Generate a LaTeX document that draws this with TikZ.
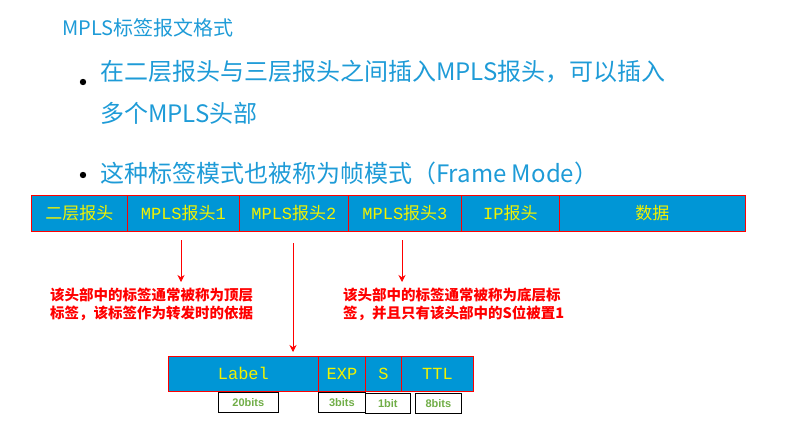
\documentclass[tikz,border=0pt]{standalone}
\usepackage{fontspec}
\usetikzlibrary{arrows.meta}
\setmainfont{Carlito}
\setsansfont{Liberation Sans}
\newfontfamily\cjk{Noto Sans CJK SC}
\newfontfamily\mono{Liberation Mono}
\definecolor{tblue}{HTML}{1E9BD7}
\definecolor{barblue}{HTML}{0096D6}
\definecolor{byel}{HTML}{F2F200}
\definecolor{bgreen}{HTML}{70AD47}
\tikzset{
  cell/.style={draw=red, fill=barblue, line width=0.8pt, minimum height=36pt, inner sep=0pt, anchor=north west, text=byel, font=\fontsize{17}{19}\selectfont\mono},
  bits/.style={draw=black, line width=0.7pt, minimum height=20pt, inner sep=0pt, anchor=north west, text=bgreen, font=\fontsize{11}{12}\selectfont\bfseries\sffamily},
  note/.style={anchor=north west, text=red, align=left, font=\fontsize{14.5}{18}\selectfont\bfseries\cjk, inner sep=0pt},
  arr/.style={draw=red, line width=0.7pt, -{Stealth[length=7pt,width=7pt]}},
  bul/.style={anchor=west, text=tblue, align=left, inner sep=0pt, font=\fontsize{24}{42}\selectfont\cjk}
}
\begin{document}
\begin{tikzpicture}[x=1pt,y=-1pt]
\useasboundingbox (0,0) rectangle (790,423);
\node[anchor=west,text=tblue,inner sep=0pt,font=\fontsize{20}{22}\selectfont\cjk] (title) at (62,28) {MPLS标签报文格式};
\fill (83,82) circle (3.2pt);
\fill (83,175) circle (3.2pt);
\node[bul,anchor=north west] (b1) at (100,60) {在二层报头与三层报头之间插入MPLS报头，可以插入\\多个MPLS头部};
\node[bul] (b2) at (100,173) {这种标签模式也被称为帧模式（Frame Mode）};
% top bar
\node[cell,minimum width=96pt] (c1) at (31,195) {\cjk 二层报头};
\node[cell,minimum width=112pt] (c2) at (127,195) {MPLS{\cjk 报头}1};
\node[cell,minimum width=109pt] (c3) at (239,195) {MPLS{\cjk 报头}2};
\node[cell,minimum width=113pt] (c4) at (348,195) {MPLS{\cjk 报头}3};
\node[cell,minimum width=98pt] (c5) at (461,195) {IP{\cjk 报头}};
\node[cell,minimum width=186pt] (c6) at (559,195) {\cjk 数据};
% bottom bar
\node[cell,minimum width=150pt,minimum height=35pt] (l1) at (168,356) {Label};
\node[cell,minimum width=47pt,minimum height=35pt] (l2) at (318,356) {EXP};
\node[cell,minimum width=36pt,minimum height=35pt] (l3) at (365,356) {S};
\node[cell,minimum width=72pt,minimum height=35pt] (l4) at (401,356) {TTL};
\node[bits,minimum width=60pt] (s1) at (218,392) {20bits};
\node[bits,minimum width=47pt] (s2) at (318,392) {3bits};
\node[bits,minimum width=45pt] (s3) at (365,393) {1bit};
\node[bits,minimum width=46pt] (s4) at (415,393) {8bits};
% notes
\node[note] (n1) at (50,288) {该头部中的标签通常被称为顶层\\标签，该标签作为转发时的依据};
\node[note] (n2) at (343,288) {该头部中的标签通常被称为底层标\\签，并且只有该头部中的S位被置1};
\coordinate (a1s) at (181,240); \coordinate (a1e) at (181,282);
\coordinate (a2s) at (293,243); \coordinate (a2e) at (293,352);
\coordinate (a3s) at (402,240); \coordinate (a3e) at (402,282);
\draw[arr] (a1s) -- (a1e);
\draw[arr] (a2s) -- (a2e);
\draw[arr] (a3s) -- (a3e);
\end{tikzpicture}
\end{document}
